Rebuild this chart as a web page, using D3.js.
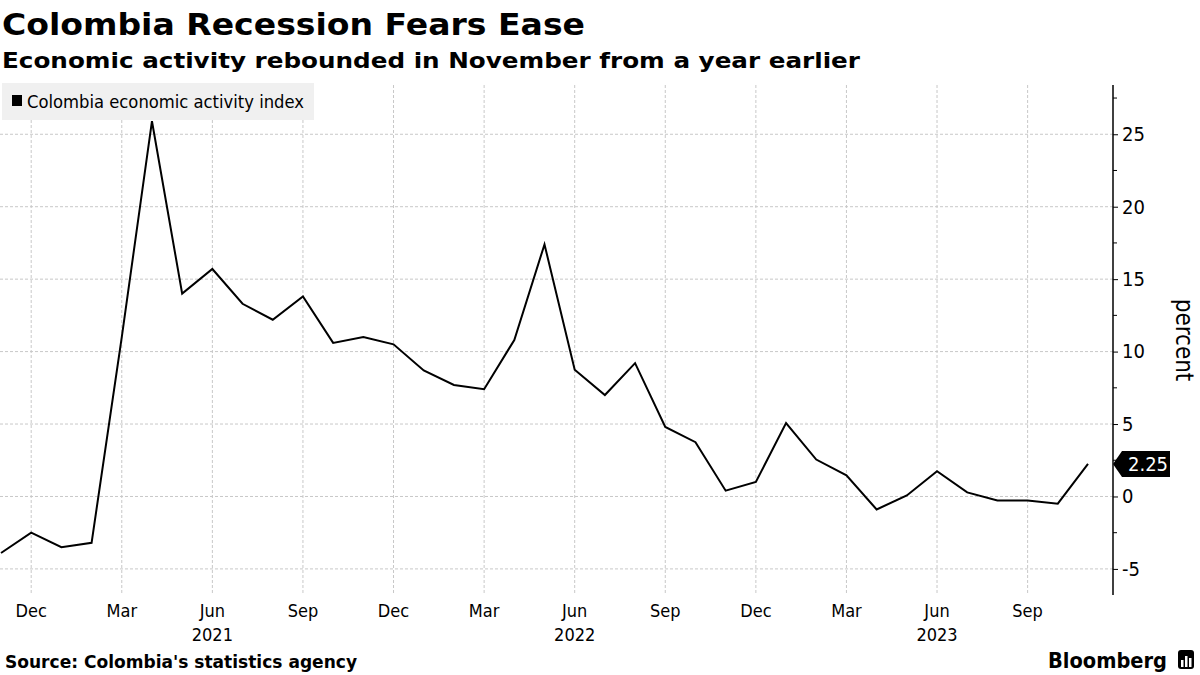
<!DOCTYPE html>
<html><head><meta charset="utf-8">
<script src="https://cdn.jsdelivr.net/npm/d3@7"></script>
<style>
body{margin:0;background:#fff;}
svg{display:block;}
</style></head>
<body>
<svg id="c" width="1200" height="675"></svg>
<script>
// Data: Colombia economic activity index, y/y % (Nov 2020 - Nov 2023)
const months = ["2020-11","2020-12","2021-01","2021-02","2021-03","2021-04","2021-05","2021-06","2021-07","2021-08","2021-09","2021-10","2021-11","2021-12","2022-01","2022-02","2022-03","2022-04","2022-05","2022-06","2022-07","2022-08","2022-09","2022-10","2022-11","2022-12","2023-01","2023-02","2023-03","2023-04","2023-05","2023-06","2023-07","2023-08","2023-09","2023-10","2023-11"];
const values = [-3.9,-2.5,-3.5,-3.2,11.0,25.9,14.0,15.7,13.3,12.2,13.8,10.6,11.0,10.5,8.7,7.7,7.4,10.8,17.4,8.75,7.0,9.2,4.8,3.75,0.4,1.0,5.07,2.55,1.46,-0.9,0.07,1.74,0.28,-0.28,-0.28,-0.5,2.25];
const xTickMonths = ["2020-12","2021-03","2021-06","2021-09","2021-12","2022-03","2022-06","2022-09","2022-12","2023-03","2023-06","2023-09"];
const xTickLabels = ["Dec","Mar","Jun","Sep","Dec","Mar","Jun","Sep","Dec","Mar","Jun","Sep"];
const yearLabels = [{m:"2021-06",t:"2021"},{m:"2022-06",t:"2022"},{m:"2023-06",t:"2023"}];
const yTicks = [-5,0,5,10,15,20,25];
const yMinorTicks = [-2.5,2.5,7.5,12.5,17.5,22.5,27.5];
const title = "Colombia Recession Fears Ease";
const subtitle = "Economic activity rebounded in November from a year earlier";
const legendLabel = "Colombia economic activity index";
const source = "Source: Colombia's statistics agency";

const svg = d3.select("#c");
const plotTop = 85, plotBottom = 595, axisX = 1113;
const idx = m => months.indexOf(m);
const x = d3.scaleLinear().domain([0, months.length-1]).range([1, 1088]);
const y = d3.scaleLinear().domain([-6.8, 28.4]).range([plotBottom, plotTop]);

const condensed = "'DejaVu Sans Condensed','DejaVu Sans',sans-serif";

// Titles
svg.append("text").attr("x",2).attr("y",35).attr("font-family","'DejaVu Sans',sans-serif")
  .attr("font-weight","bold").attr("font-size",30).attr("textLength",583).attr("lengthAdjust","spacingAndGlyphs")
  .attr("fill","#000").text(title);
svg.append("text").attr("x",2).attr("y",68).attr("font-family","'DejaVu Sans',sans-serif")
  .attr("font-weight","bold").attr("font-size",21).attr("textLength",858).attr("lengthAdjust","spacingAndGlyphs")
  .attr("fill","#000").text(subtitle);

// Gridlines
const grid = svg.append("g");
grid.selectAll("line.h").data(yTicks).join("line")
  .attr("x1",0).attr("x2",axisX).attr("y1",d=>y(d)).attr("y2",d=>y(d))
  .attr("stroke","#c8c8c8").attr("stroke-width",1).attr("stroke-dasharray","3,2");
grid.selectAll("line.v").data(xTickMonths).join("line")
  .attr("x1",d=>x(idx(d))).attr("x2",d=>x(idx(d))).attr("y1",plotTop).attr("y2",plotBottom)
  .attr("stroke","#c8c8c8").attr("stroke-width",1).attr("stroke-dasharray","3,2");

// Legend
svg.append("rect").attr("x",2).attr("y",83).attr("width",312).attr("height",37).attr("fill","#f0f0f0");
svg.append("rect").attr("x",12).attr("y",95).attr("width",10).attr("height",11).attr("fill","#000");
svg.append("text").attr("x",27).attr("y",108).attr("font-family",condensed).attr("font-size",17)
  .attr("textLength",277).attr("lengthAdjust","spacingAndGlyphs")
  .attr("fill","#000").text(legendLabel);

// Line
const line = d3.line().x((d,i)=>x(i)).y(d=>y(d));
svg.append("path").datum(values).attr("d",line).attr("fill","none")
  .attr("stroke","#000").attr("stroke-width",2).attr("stroke-linejoin","miter");

// Y axis
const yAxis = d3.axisRight(y).tickValues(yTicks).tickSize(5).tickPadding(4).tickFormat(d=>d);
const ya = svg.append("g").attr("transform",`translate(${axisX},0)`).call(yAxis);
ya.select(".domain").attr("d",`M0,${plotTop}V${plotBottom}`).attr("stroke","#000").attr("stroke-width",1.5);
ya.selectAll(".tick line").attr("stroke","#000");
ya.selectAll(".tick text").attr("font-family",condensed).attr("font-size",20).attr("fill","#000");
svg.append("g").selectAll("line").data(yMinorTicks).join("line")
  .attr("x1",axisX).attr("x2",axisX+4).attr("y1",d=>y(d)).attr("y2",d=>y(d)).attr("stroke","#000");

svg.append("text").attr("transform",`translate(1176,340) rotate(90)`).attr("text-anchor","middle")
  .attr("font-family",condensed).attr("font-size",24).attr("fill","#000").text("percent");

// Last value label
const lastV = values[values.length-1];
const ly = y(lastV);
svg.append("path").attr("d",`M${axisX},${ly} L${axisX+9},${ly-13} H${axisX+57} V${ly+13} H${axisX+9} Z`).attr("fill","#000");
svg.append("text").attr("x",axisX+35).attr("y",ly+7).attr("text-anchor","middle")
  .attr("font-family",condensed).attr("font-size",20).attr("fill","#fff").text(lastV.toFixed(2));

// X axis labels
const xl = svg.append("g");
xl.selectAll("text.m").data(xTickMonths).join("text")
  .attr("x",d=>x(idx(d))).attr("y",617).attr("text-anchor","middle")
  .attr("font-family",condensed).attr("font-size",18).attr("fill","#000")
  .text((d,i)=>xTickLabels[i]);
xl.selectAll("text.y").data(yearLabels).join("text")
  .attr("x",d=>x(idx(d.m))).attr("y",641).attr("text-anchor","middle")
  .attr("font-family",condensed).attr("font-size",18).attr("fill","#000")
  .text(d=>d.t);

// Footer
svg.append("text").attr("x",5).attr("y",668).attr("font-family",condensed).attr("font-weight","bold")
  .attr("font-size",17).attr("textLength",352).attr("lengthAdjust","spacingAndGlyphs")
  .attr("fill","#000").text(source);
svg.append("text").attr("x",1167).attr("y",668).attr("text-anchor","end").attr("font-family",condensed)
  .attr("font-weight","bold").attr("font-size",22).attr("textLength",119).attr("lengthAdjust","spacingAndGlyphs")
  .attr("fill","#000").text("Bloomberg");
svg.append("rect").attr("x",1178).attr("y",650).attr("width",16).attr("height",19).attr("rx",3).attr("fill","#000");
svg.append("g").selectAll("rect").data([0,1,2]).join("rect")
  .attr("x",(d,i)=>1181+i*4).attr("y",(d,i)=>[660,656,658][i]).attr("width",2.5).attr("height",(d,i)=>[7,11,9][i]).attr("fill","#fff");
</script>
</body></html>
